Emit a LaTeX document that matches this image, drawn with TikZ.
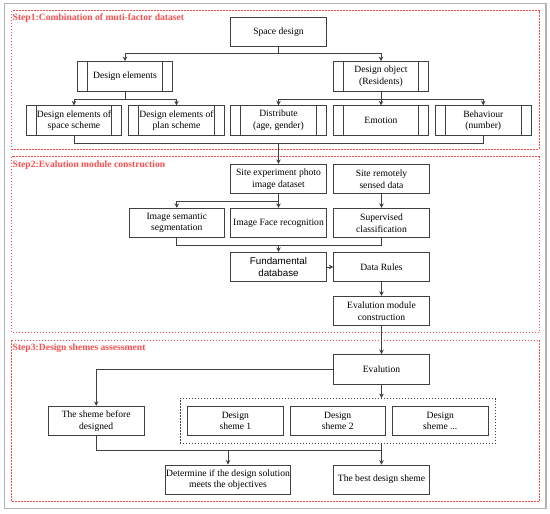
\documentclass[tikz,border=0pt]{standalone}
\usepackage{fontspec}
\setmainfont{Liberation Serif}
\newfontfamily\arialfont{Liberation Sans}
\usepackage{tikz}
\usetikzlibrary{arrows.meta,fit}
\tikzset {>={Stealth[length=4.5pt,width=4.5pt]}}
\definecolor{stepred}{RGB}{255,77,77}
\definecolor{linegray}{RGB}{64,64,64}
\tikzset{
  box/.style={draw=linegray,line width=0.8pt,minimum width=95.5pt,minimum height=29.5pt,
    align=center,inner sep=1pt,font=\fontsize{9.6}{11.6}\selectfont},
  procbox/.style={box,path picture={\draw[linegray,line width=0.8pt]
    ([xshift=10pt]path picture bounding box.north west) -- ([xshift=10pt]path picture bounding box.south west)
    ([xshift=-10pt]path picture bounding box.north east) -- ([xshift=-10pt]path picture bounding box.south east);}},
  stepframe/.style={draw=stepred,line width=0.8pt,dash pattern=on 1.6pt off 1.4pt},
  steplabel/.style={anchor=west,text=stepred,inner sep=0pt,font=\fontsize{9.6}{11}\selectfont\bfseries},
  link/.style={draw=linegray,line width=0.8pt}
}

\begin{document}
\begin{tikzpicture}[x=1pt,y=-1pt]
\useasboundingbox (0,0) rectangle (550,514);
\draw[gray!60,line width=1.2pt] (4.3,3.5) rectangle (546,508.3);
\draw[stepframe] (11.7,10.7) rectangle (539.3,149);
\draw[stepframe] (11.7,156.7) rectangle (539.3,332.7);
\draw[stepframe] (11.7,340) rectangle (539.3,501.7);
\node[steplabel] (s1) at (12.5,18.5) {Step1:Combination of muti-factor dataset};
\node[steplabel] (s2) at (12.5,165) {Step2:Evalution module construction};
\node[steplabel] (s3) at (12.5,348.5) {Step3:Design shemes assessment};

\node[box] (space) at (278.5,32) {Space design};
\node[procbox] (delem) at (125,76.2) {Design elements};
\node[procbox] (dobj) at (381,76.2) {Design object\\(Residents)};
\node[procbox] (spacesch) at (74,120.5) {Design elements of\\space scheme};
\node[procbox] (plansch) at (176.5,120.5) {Design elements of\\plan scheme};
\node[procbox] (distr) at (278.5,120.5) {Distribute\\(age, gender)};
\node[procbox] (emotion) at (381,120.5) {Emotion};
\node[procbox] (behav) at (483.3,120.5) {Behaviour\\(number)};

\node[box] (photo) at (278.5,179) {Site experiment photo\\image dataset};
\node[box] (remote) at (381.5,179) {Site remotely\\sensed data};
\node[box] (seg) at (176.8,223) {Image semantic\\segmentation};
\node[box] (face) at (278.5,223) {Image Face recognition};
\node[box] (superv) at (381.5,223) {Supervised\\classification};
\node[box,font=\arialfont\fontsize{9.8}{11.7}\selectfont] (fund) at (278.5,267) {Fundamental\\database};
\node[box] (rules) at (381.5,267) {Data Rules};
\node[box] (evmod) at (381.5,311) {Evalution module\\construction};

\node[box] (eval) at (381.5,369.2) {Evalution};
\node[box] (before) at (96.2,421) {The sheme before\\designed};
\node[box] (ds1) at (235.4,421) {Design\\sheme 1};
\node[box] (ds2) at (337.7,421) {Design\\sheme 2};
\node[box] (ds3) at (440.3,421) {Design\\sheme ...};
\node[draw=linegray,line width=0.9pt,dash pattern=on 1.5pt off 1.5pt,fit=(ds1)(ds3),inner sep=7.3pt] (group) {};
\node[box,minimum width=124.7pt] (determine) at (228,479.7) {Determine if the design solution\\meets the objectives};
\node[box] (best) at (381.5,479.7) {The best design sheme};

\draw[link,->] (space.south) -- ++(0,6) -| (delem.north);
\draw[link,->] (space.south) -- ++(0,6) -| (dobj.north);
\draw[link,->] (delem.south) -- ++(0,8.3) -| (spacesch.north);
\draw[link,->] (delem.south) -- ++(0,8.3) -| (plansch.north);
\draw[link,->] (dobj.south) -- ++(0,8.3) -| (distr.north);
\draw[link,->] (dobj.south) -- (emotion.north);
\draw[link,->] (dobj.south) -- ++(0,8.3) -| (behav.north);
\draw[link] (spacesch.south) -- ++(0,7.7) coordinate (j1) -- (j1 -| behav.south) -- (behav.south);
\draw[link,->] (j1 -| photo.north) -- (photo.north);

\draw[link,->] (photo.south) -- ++(0,7) -| (seg.north);
\draw[link,->] (photo.south) -- (face.north);
\draw[link,->] (remote.south) -- (superv.north);
\draw[link] (seg.south) -- ++(0,7) coordinate (j2) -- (j2 -| superv.south) -- (superv.south);
\draw[link,->] (j2 -| fund.north) -- (fund.north);
\draw[link,->] (fund.east) -- (rules.west);
\draw[link,->] (rules.south) -- (evmod.north);
\draw[link,->] (evmod.south) -- (eval.north);

\draw[link,->] (eval.west) -| (before.north);
\draw[link,->] (eval.south) -- (eval.south |- group.north);
\draw[link] (before.south) -- ++(0,14) coordinate (j3) -- (j3 -| best.north);
\draw[link,->] (j3 -| determine.north) -- (determine.north);
\draw[link,->] (group.south -| best.north) -- (best.north);
\end{tikzpicture}
\end{document}
